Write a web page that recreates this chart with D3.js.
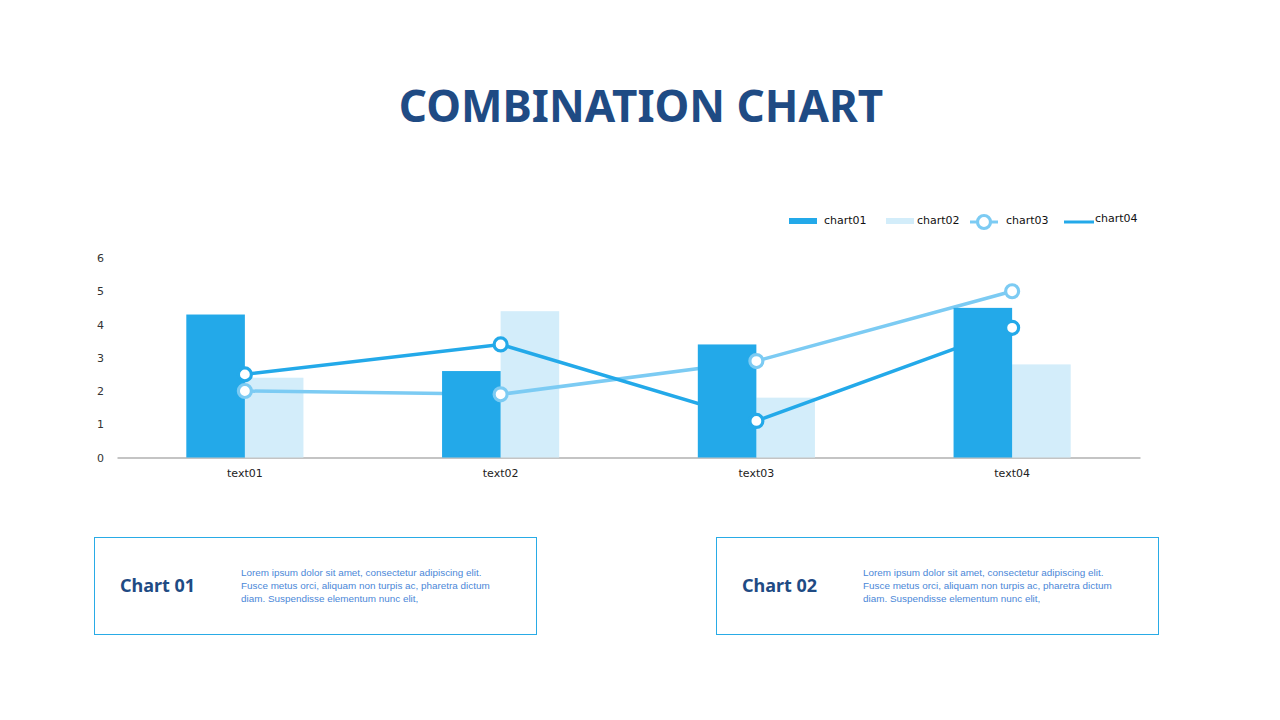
<!DOCTYPE html>
<html>
<head>
<meta charset="utf-8">
<script src="https://cdn.jsdelivr.net/npm/d3@7"></script>
<style>
  body { margin: 0; background: #fff; }
  svg { display: block; }
</style>
</head>
<body>
<div id="chart"></div>
<script>
// data
const categories = ["text01", "text02", "text03", "text04"];
const chart01 = [4.3, 2.6, 3.4, 4.5];
const chart02 = [2.4, 4.4, 1.8, 2.8];
const chart03 = [2.0, 1.9, 2.9, 5.0];
const chart04 = [2.5, 3.4, 1.1, 3.9];
const yTicks = [0, 1, 2, 3, 4, 5, 6];
const seriesNames = ["chart01", "chart02", "chart03", "chart04"];
const lorem = [
  "Lorem ipsum dolor sit amet, consectetur adipiscing elit.",
  "Fusce metus orci, aliquam non turpis ac, pharetra dictum",
  "diam. Suspendisse elementum nunc elit,"
];

const W = 1280, H = 720;
const dark = "#23a9e9", light = "#d3edfa", mid = "#7ccbf3", navy = "#1f4b84";

let svg = d3.select("#chart").append("svg")
    .attr("width", W).attr("height", H);

// title
svg.append("text")
    .attr("x", 641).attr("y", 122)
    .attr("text-anchor", "middle")
    .style("font-family", "'Noto Sans', 'Open Sans', sans-serif")
    .style("font-weight", "bold")
    .style("font-size", "44px")
    .attr("fill", navy)
    .text("COMBINATION CHART");

// plot area
let plot = {left: 117, right: 1140, top: 258, bottom: 457.5};

let x = d3.scaleBand()
    .domain(categories)
    .range([plot.left, plot.right]);
let y = d3.scaleLinear()
    .domain([0, 6])
    .range([plot.bottom, plot.top]);

let barW = x.bandwidth() * 0.229;
let cx = function(i) { return x(categories[i]) + x.bandwidth() / 2; };

let g = svg.append("g");

// y labels
g.append("g").selectAll("text")
  .data(yTicks)
  .enter()
  .append("text")
    .attr("x", 104)
    .attr("y", function(d) { return y(d) + 1; })
    .attr("text-anchor", "end")
    .attr("dominant-baseline", "middle")
    .style("font-family", "'DejaVu Sans', sans-serif")
    .style("font-size", "11px")
    .attr("fill", "#333")
    .text(function(d) { return d; });

// x axis
let xAxis = g.append("g")
    .attr("transform", "translate(0," + plot.bottom + ")")
    .call(d3.axisBottom(x).tickSize(0).tickPadding(12));
xAxis.select(".domain").attr("stroke", "#8a8a8a").attr("stroke-width", 1.2);
xAxis.selectAll("text")
    .style("font-family", "'DejaVu Sans', sans-serif")
    .style("font-size", "11px")
    .attr("fill", "#222");

// light bars first
g.append("g").selectAll("rect")
  .data(chart02)
  .enter()
  .append("rect")
    .attr("x", function(d, i) { return cx(i); })
    .attr("y", function(d) { return y(d); })
    .attr("width", barW)
    .attr("height", function(d) { return y(0) - y(d); })
    .attr("fill", light);

// lines
let line = d3.line()
    .x(function(d, i) { return cx(i); })
    .y(function(d) { return y(d); });

g.append("path").datum(chart03)
    .attr("d", line)
    .attr("fill", "none")
    .attr("stroke", mid)
    .attr("stroke-width", 3.5);
g.append("path").datum(chart04)
    .attr("d", line)
    .attr("fill", "none")
    .attr("stroke", dark)
    .attr("stroke-width", 3.5);

// dark bars over the lines
g.append("g").selectAll("rect")
  .data(chart01)
  .enter()
  .append("rect")
    .attr("x", function(d, i) { return cx(i) - barW; })
    .attr("y", function(d) { return y(d); })
    .attr("width", barW)
    .attr("height", function(d) { return y(0) - y(d); })
    .attr("fill", dark);

// markers
[[chart03, mid], [chart04, dark]].forEach(function(s) {
  g.append("g").selectAll("circle")
    .data(s[0])
    .enter()
    .append("circle")
      .attr("cx", function(d, i) { return cx(i); })
      .attr("cy", function(d) { return y(d); })
      .attr("r", 6.5)
      .attr("fill", "#fff")
      .attr("stroke", s[1])
      .attr("stroke-width", 3.2);
});

// legend
let legendX = [789, 886, 970, 1064];
let legend = svg.append("g").selectAll("g")
  .data(seriesNames)
  .enter()
  .append("g")
    .attr("transform", function(d, i) { return "translate(" + legendX[i] + ",221)"; });

legend.each(function(d, i) {
  let lg = d3.select(this);
  if (i < 2) {
    lg.append("rect").attr("x", 0).attr("y", -3).attr("width", 28).attr("height", 6)
      .attr("fill", i == 0 ? dark : light);
  } else {
    lg.append("line").attr("x1", 0).attr("x2", i == 2 ? 28 : 30).attr("y1", 1).attr("y2", 1)
      .attr("stroke", i == 2 ? mid : dark).attr("stroke-width", 3);
    if (i == 2) {
      lg.append("circle").attr("cx", 14).attr("cy", 1).attr("r", 6.5)
        .attr("fill", "#fff").attr("stroke", mid).attr("stroke-width", 3.2);
    }
  }
  lg.append("text")
    .attr("x", [35, 31, 36, 31][i])
    .attr("y", i == 3 ? 1 : 2.5)
    .style("font-family", "'DejaVu Sans', sans-serif")
    .style("font-size", "11px")
    .attr("fill", "#111")
    .text(d);
});

// text boxes
let boxes = [{x: 94.5, title: "Chart 01"}, {x: 716.5, title: "Chart 02"}];
let box = svg.append("g").selectAll("g")
  .data(boxes)
  .enter()
  .append("g")
    .attr("transform", function(d) { return "translate(" + d.x + ",537.5)"; });

box.append("rect")
    .attr("width", 442).attr("height", 97)
    .attr("fill", "none")
    .attr("stroke", "#29abe6")
    .attr("stroke-width", 1);

box.append("text")
    .attr("x", 25.5).attr("y", 54.5)
    .style("font-family", "'Noto Sans', sans-serif")
    .style("font-weight", "bold")
    .style("font-size", "18px")
    .attr("fill", navy)
    .text(function(d) { return d.title; });

box.each(function() {
  d3.select(this).append("g").selectAll("text")
    .data(lorem)
    .enter()
    .append("text")
      .attr("x", 146.5)
      .attr("y", function(d, i) { return 38 + i * 13.3; })
      .style("font-family", "'Liberation Sans', sans-serif")
      .style("font-size", "9.9px")
      .attr("fill", "#4b87d8")
      .text(function(d) { return d; });
});
</script>
</body>
</html>
